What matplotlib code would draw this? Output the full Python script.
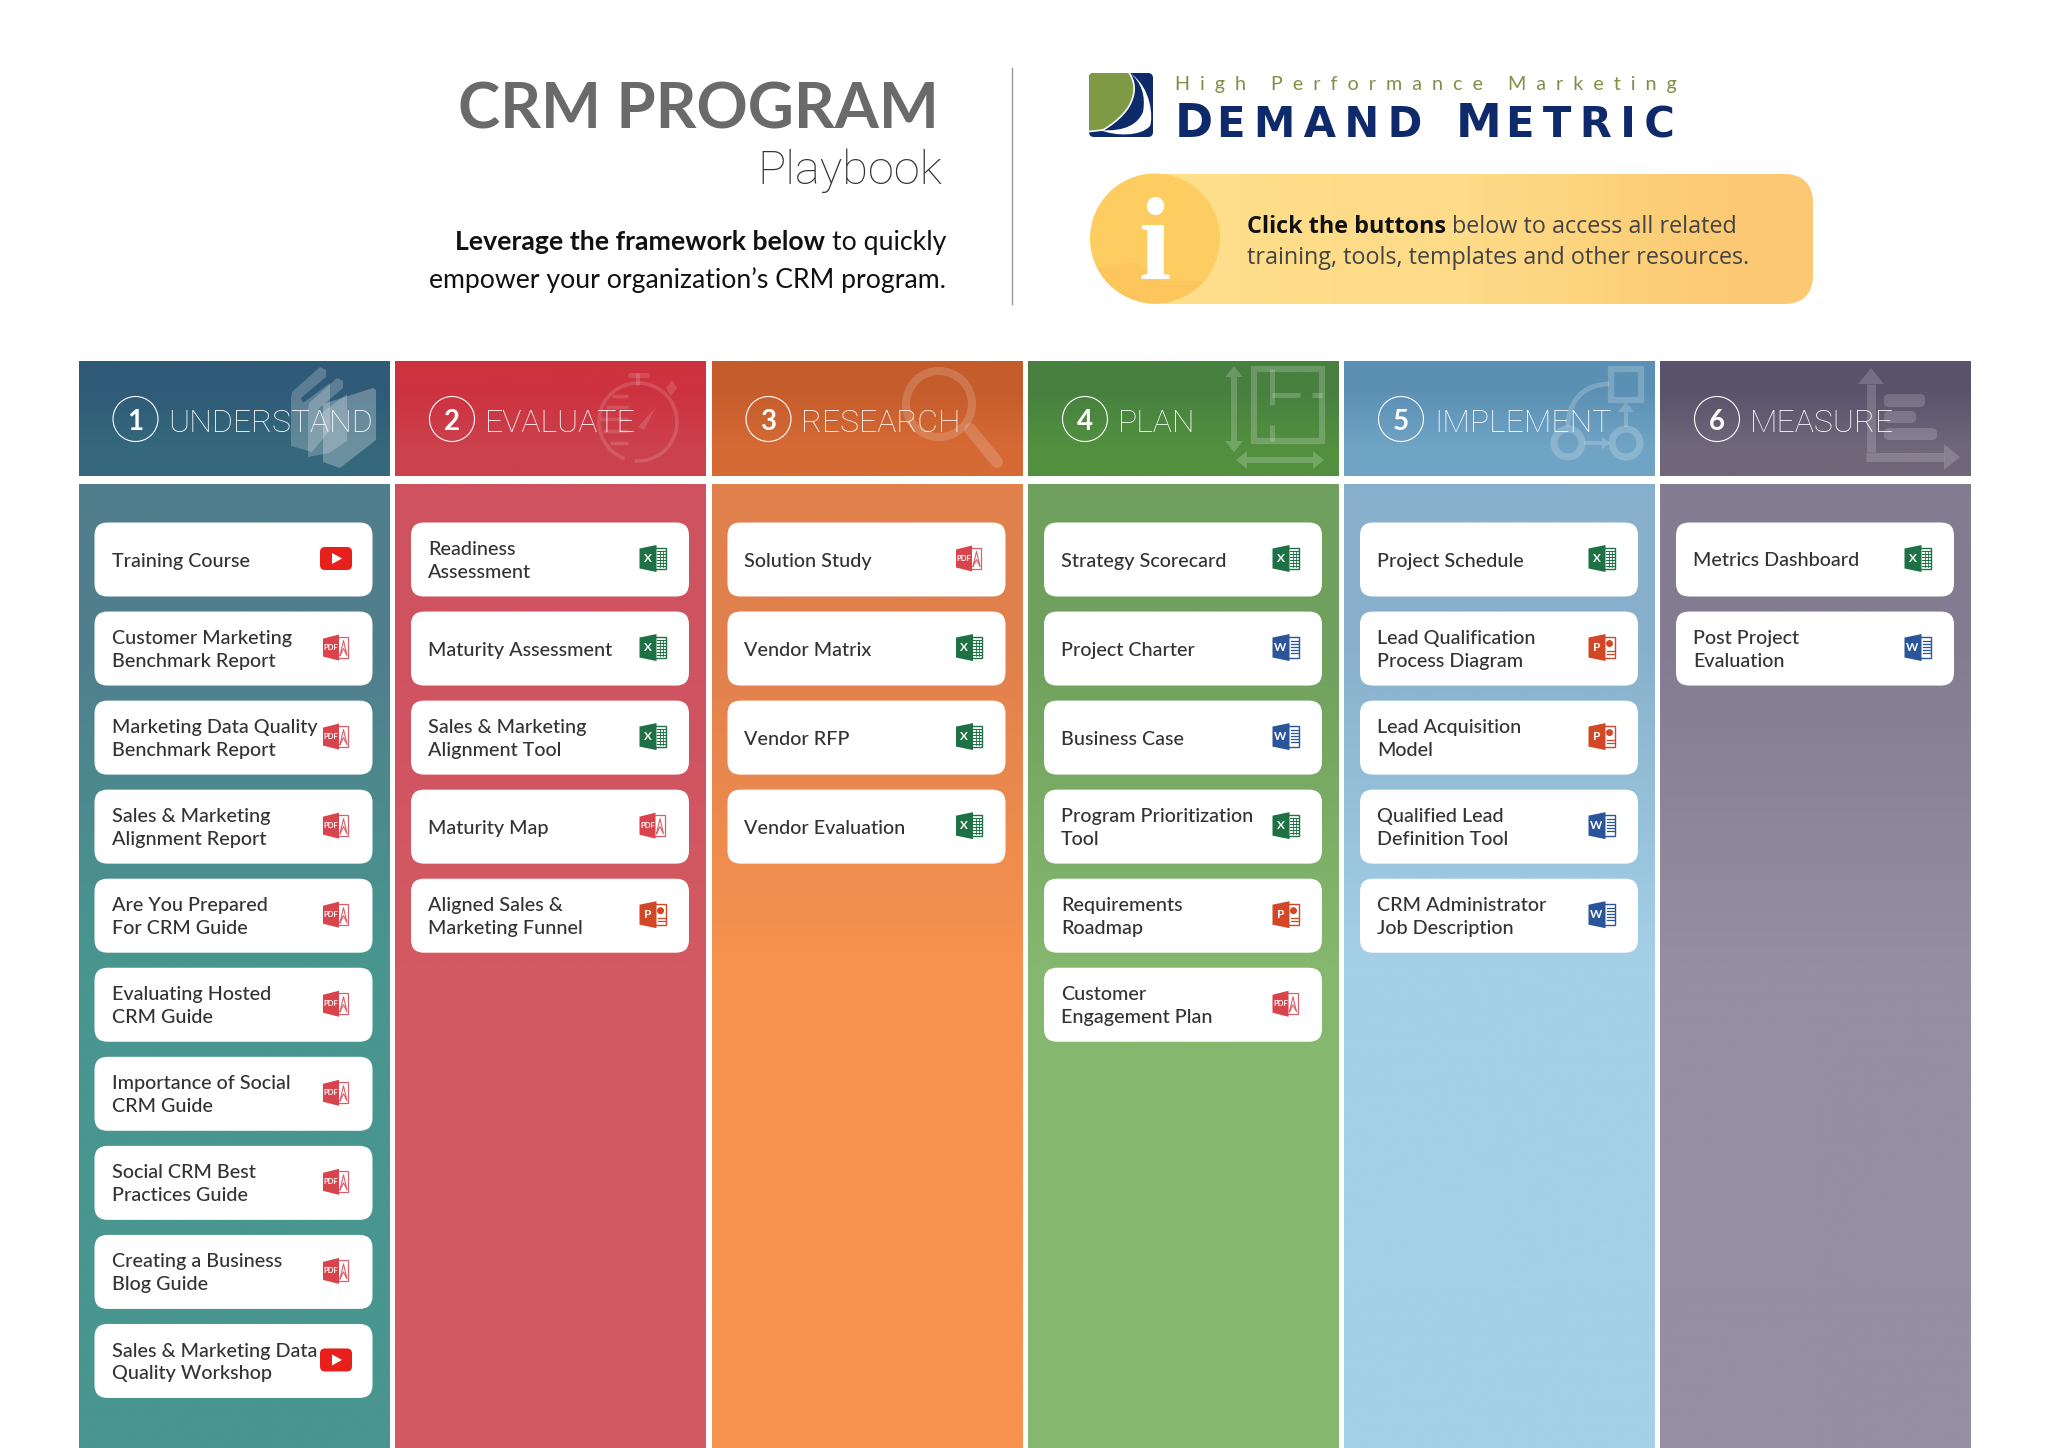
import numpy as np
import matplotlib
matplotlib.use("Agg")
import matplotlib.pyplot as plt
from matplotlib.patches import FancyBboxPatch, Circle, Polygon, Rectangle, PathPatch, Arc
from matplotlib.path import Path
from matplotlib.colors import to_rgb

TITLES = ["UNDERSTAND", "EVALUATE", "RESEARCH", "PLAN", "IMPLEMENT", "MEASURE"]
HEADER_TOP = ["#2f5a78", "#cd323e", "#c55c2b", "#47803f", "#5b90b4", "#5a526b"]
HEADER_BOT = ["#35687c", "#cb414c", "#d56a35", "#52903f", "#70a4c5", "#6f6779"]
BODY_TOP = ["#507e8d", "#cf5260", "#e0804c", "#6fa05d", "#88b0cc", "#837c91"]
BODY_BOT = ["#48968f", "#d35a62", "#f7924f", "#85b86e", "#a4d0e8", "#958fa1"]

ITEMS_1 = ["Training Course", "Customer Marketing\nBenchmark Report", "Marketing Data Quality\nBenchmark Report",
           "Sales & Marketing\nAlignment Report", "Are You Prepared\nFor CRM Guide", "Evaluating Hosted\nCRM Guide",
           "Importance of Social\nCRM Guide", "Social CRM Best\nPractices Guide", "Creating a Business\nBlog Guide",
           "Sales & Marketing Data\nQuality Workshop"]
ICONS_1 = ["yt", "pdf", "pdf", "pdf", "pdf", "pdf", "pdf", "pdf", "pdf", "yt"]
ITEMS_2 = ["Readiness\nAssessment", "Maturity Assessment", "Sales & Marketing\nAlignment Tool", "Maturity Map",
           "Aligned Sales &\nMarketing Funnel"]
ICONS_2 = ["xls", "xls", "xls", "pdf", "ppt"]
ITEMS_3 = ["Solution Study", "Vendor Matrix", "Vendor RFP", "Vendor Evaluation"]
ICONS_3 = ["pdf", "xls", "xls", "xls"]
ITEMS_4 = ["Strategy Scorecard", "Project Charter", "Business Case", "Program Prioritization\nTool",
           "Requirements\nRoadmap", "Customer\nEngagement Plan"]
ICONS_4 = ["xls", "doc", "doc", "xls", "ppt", "pdf"]
ITEMS_5 = ["Project Schedule", "Lead Qualification\nProcess Diagram", "Lead Acquisition\nModel",
           "Qualified Lead\nDefinition Tool", "CRM Administrator\nJob Description"]
ICONS_5 = ["xls", "ppt", "ppt", "doc", "doc"]
ITEMS_6 = ["Metrics Dashboard", "Post Project\nEvaluation"]
ICONS_6 = ["xls", "doc"]
ITEMS = [ITEMS_1, ITEMS_2, ITEMS_3, ITEMS_4, ITEMS_5, ITEMS_6]
ICONS = [ICONS_1, ICONS_2, ICONS_3, ICONS_4, ICONS_5, ICONS_6]

W, H = 2048, 1448
COL_X = [78.5, 395, 711.5, 1028, 1344, 1660]
COL_W = 311
THIN = "\u2009"
SANS = ["Lato", "DejaVu Sans"]
OPEN = ["Open Sans", "DejaVu Sans"]
LIGHT = ["Roboto", "DejaVu Sans"]

fig = plt.figure(figsize=(W / 100, H / 100), dpi=100)
ax = fig.add_axes([0, 0, 1, 1])
ax.axis("off")


def grad(x0, y0, x1, y1, c0, c1, horizontal=False, z=1, clip=None, stops=None):
    cols = [to_rgb(c) for c in (stops or [c0, c1])]
    arr = np.array(cols)[None, :, :] if horizontal else np.array(cols)[:, None, :]
    im = ax.imshow(arr, extent=(x0, x1, y1, y0), aspect="auto", interpolation="bilinear", zorder=z)
    if clip is not None:
        im.set_clip_path(clip)
    return im


def box(x, y, w, h, r, **kw):
    return FancyBboxPatch((x, y), w, h, boxstyle=f"round,pad=0,rounding_size={r}", **kw)


def icon_base(cx, cy, color, letter, fs=8.5):
    ax.add_patch(Rectangle((cx - 3, cy - 10.5), 16, 21, fc="white", ec=color, lw=1.0, zorder=6))
    ax.add_patch(Polygon([(cx - 13, cy - 10), (cx + 4, cy - 13.5), (cx + 4, cy + 13.5), (cx - 13, cy + 10)],
                         fc=color, ec="none", zorder=7))
    ax.text(cx - 5, cy, letter, color="white", fontsize=fs, fontweight="bold", ha="center", va="center",
            family=SANS, zorder=8)


def draw_icon(kind, cx, cy):
    if kind == "yt":
        ax.add_patch(box(cx - 16, cy - 11.5, 32, 23, 5, fc="#e8201c", ec="none", zorder=6))
        ax.add_patch(Polygon([(cx - 4, cy - 5.5), (cx + 6, cy), (cx - 4, cy + 5.5)], fc="white", ec="none", zorder=7))
    elif kind == "xls":
        icon_base(cx, cy, "#1e7145", "X")
        for yy in np.arange(cy - 7.5, cy + 8, 3):
            ax.plot([cx + 4, cx + 12], [yy, yy], color="#1e7145", lw=0.8, zorder=7)
        for xx in (cx + 7, cx + 10):
            ax.plot([xx, xx], [cy - 8, cy + 8], color="#1e7145", lw=0.6, zorder=7)
    elif kind == "doc":
        icon_base(cx, cy, "#2a5699", "W")
        for yy in np.arange(cy - 7, cy + 8, 3):
            ax.plot([cx + 5, cx + 12], [yy, yy], color="#2a5699", lw=0.9, zorder=7)
    elif kind == "ppt":
        icon_base(cx, cy, "#d24726", "P")
        ax.add_patch(Circle((cx + 8, cy - 4), 3.5, fc="#d24726", ec="none", zorder=7))
        for yy in (cy + 3, cy + 6):
            ax.plot([cx + 5, cx + 12], [yy, yy], color="#d24726", lw=0.9, zorder=7)
    else:
        ax.add_patch(Rectangle((cx - 3, cy - 10.5), 15, 21, fc="white", ec="#d9606a", lw=0.9, zorder=6))
        ax.add_patch(Polygon([(cx - 13, cy - 9), (cx + 3, cy - 13), (cx + 3, cy + 13), (cx - 13, cy + 9)],
                             fc="#d9434c", ec="none", zorder=7))
        ax.text(cx - 5, cy, "PDF", color="white", fontsize=5.5, fontweight="bold", ha="center", va="center",
                family=SANS, zorder=8)
        ax.plot([cx + 4, cx + 7.5, cx + 11, cx + 7.5, cx + 4], [cy + 8, cy - 7, cy + 8, cy + 1, cy + 8],
                color="#d9606a", lw=0.8, zorder=8)


def wm_line(xs, ys, lw_px=8, alpha=0.2, cap="round"):
    ax.plot(xs, ys, color="white", alpha=alpha, lw=lw_px / 1.389, solid_capstyle=cap, solid_joinstyle="miter", zorder=3)


def wm_poly(pts, alpha=0.2):
    ax.add_patch(Polygon(pts, fc="white", ec="none", alpha=alpha, zorder=3))


def wm_ring(cx, cy, r, lw_px=8, alpha=0.2):
    ax.add_patch(Circle((cx, cy), r, fc="none", ec="white", alpha=alpha, lw=lw_px / 1.389, zorder=3))


def wm_arrow_v(x, y0, y1, lw=7, head=13, alpha=0.2, both=True):
    wm_line([x, x], [y0 + head, y1 - (head if both else 0)], lw, alpha, "butt")
    wm_poly([(x, y0), (x - head * .8, y0 + head), (x + head * .8, y0 + head)], alpha)
    if both:
        wm_poly([(x, y1), (x - head * .8, y1 - head), (x + head * .8, y1 - head)], alpha)


def wm_arrow_h(x0, x1, y, lw=7, head=13, alpha=0.2, both=True):
    wm_line([x0 + (head if both else 0), x1 - head], [y, y], lw, alpha, "butt")
    wm_poly([(x1, y), (x1 - head, y - head * .8), (x1 - head, y + head * .8)], alpha)
    if both:
        wm_poly([(x0, y), (x0 + head, y - head * .8), (x0 + head, y + head * .8)], alpha)


def watermark_books():
    a = 0.22
    for dx, dy in ((0, 0), (17, 11)):
        wm_poly([(291 + dx, 398 + dy), (292 + dx, 392 + dy), (320 + dx, 367 + dy), (326 + dx, 370 + dy),
                 (326 + dx, 377 + dy), (301 + dx, 398 + dy), (303 + dx, 403 + dy), (330 + dx, 383 + dy),
                 (330 + dx, 430 + dy), (312 + dx, 452 + dy - dy * .9), (291 + dx, 446 + dy)], a)
    wm_poly([(323, 404), (373, 388), (376, 390), (376, 440), (340, 468), (323, 462)], a + .05)


def watermark_watch():
    a = 0.14
    ax.add_patch(Arc((638, 422), 78, 78, theta1=-250, theta2=95, ec="white", alpha=a, lw=2.6, zorder=3))
    wm_line([638, 638], [375, 384], 4, a)
    wm_line([630, 647], [375, 375], 5, a)
    wm_poly([(672, 380), (677, 388), (671, 396), (666, 388)], a)
    wm_poly([(638, 427), (656, 407), (644, 430)], a)
    for yy, x0 in ((396, 612), (407, 606), (419, 600), (431, 603), (443, 610)):
        wm_line([x0, 628], [yy, yy], 3.5, a, "butt")


def watermark_glass():
    a = 0.17
    wm_ring(939, 404, 33, 8, a)
    wm_line([970, 997], [429, 462], 12, a)


def watermark_plan():
    a = 0.2
    ax.add_patch(Rectangle((1254, 369), 68, 72, fc="none", ec="white", alpha=a, lw=4.5, zorder=3))
    wm_line([1272, 1272], [369, 405], 5, a, "butt")
    wm_line([1272, 1272], [425, 441], 5, a, "butt")
    wm_line([1272, 1300], [395, 395], 5, a, "butt")
    wm_line([1312, 1322], [395, 395], 5, a, "butt")
    wm_arrow_v(1234, 366, 452, 6, 11, a)
    wm_arrow_h(1236, 1324, 460, 6, 11, a)


def watermark_flow():
    a = 0.2
    ax.add_patch(Rectangle((1611, 369), 30, 31, fc="none", ec="white", alpha=a, lw=4.5, zorder=3))
    wm_ring(1568, 443, 14, 7, a)
    wm_ring(1626, 443, 14, 7, a)
    wm_arrow_h(1584, 1610, 443, 4, 8, a, both=False)
    wm_arrow_v(1626, 402, 427, 4, 10, a, both=False)
    ax.add_patch(PathPatch(Path([(1568, 427), (1568, 400), (1585, 384), (1609, 384)],
                                [Path.MOVETO, Path.CURVE4, Path.CURVE4, Path.CURVE4]),
                           fc="none", ec="white", alpha=a, lw=3.5, zorder=3))


def watermark_chart():
    a = 0.17
    wm_arrow_v(1871, 368, 452, 9, 16, a, both=False)
    wm_arrow_h(1866, 1960, 457, 9, 16, a, both=False)
    for x1, y0, y1 in ((1925, 394, 407), (1916, 411, 423), (1937, 428, 440)):
        ax.add_patch(box(1884, y0, x1 - 1884, y1 - y0, 5, fc="white", ec="none", alpha=a, zorder=3))


WATERMARKS = [watermark_books, watermark_watch, watermark_glass, watermark_plan, watermark_flow, watermark_chart]

for i, x in enumerate(COL_X):
    grad(x, 362, x + COL_W, 476.5, HEADER_TOP[i], HEADER_BOT[i])
    grad(x, 484.5, x + COL_W, H, None, None, stops=[BODY_TOP[i], BODY_BOT[i], BODY_BOT[i]])
    WATERMARKS[i]()
    ax.add_patch(Circle((x + 57, 419), 22.5, fc="none", ec="white", lw=0.8, zorder=5))
    ax.text(x + 57, 419, str(i + 1), color="white", fontsize=20, fontweight="bold", ha="center", va="center_baseline",
            family=SANS, zorder=6)
    ax.text(x + 90, 421, TITLES[i], color="white", fontsize=23, fontweight="light", ha="left", va="center_baseline",
            family=LIGHT, zorder=6)
    for j, (label, kind) in enumerate(zip(ITEMS[i], ICONS[i])):
        top = 522.5 + j * 89.05
        ax.add_patch(box(x + 16, top, 278, 74, 13, fc="white", ec="none", zorder=4))
        ax.text(x + 33, top + 38.5, label, color="#333333", fontsize=14.2, fontweight="medium", ha="left", va="center",
                linespacing=1.42, family=SANS, zorder=6)
        draw_icon(kind, x + 257.5, top + 36)


def runs(x_right, y, parts, fs, family, gap, color="#111111"):
    r = fig.canvas.get_renderer()
    xs = x_right
    for text, weight in reversed(parts):
        t = ax.text(xs, y, text, fontsize=fs, fontweight=weight, ha="right", va="center_baseline", family=family,
                    color=color, zorder=6)
        xs -= t.get_window_extent(r).width + gap


def runs_left(x, y, parts, fs, family, gap, color="#111111"):
    r = fig.canvas.get_renderer()
    for text, weight, c in parts:
        t = ax.text(x, y, text, fontsize=fs, fontweight=weight, ha="left", va="center_baseline", family=family,
                    color=c or color, zorder=6)
        x += t.get_window_extent(r).width + gap


ax.text(939, 105, "CRM PROGRAM", color="#6a6a6a", fontsize=45.7, fontweight="bold", ha="right", va="center_baseline",
        family=SANS)
ax.text(942, 166, "Playbook", color="#333333", fontsize=33.8, fontweight="light", ha="right", va="center_baseline",
        family=LIGHT)
runs(946, 240, [("Leverage the framework below", "bold"), ("to quickly", "normal")], 19.2, SANS, 7)
ax.text(946, 278, "empower your organization\u2019s CRM program.", color="#111111", fontsize=19.2, ha="right",
        va="center_baseline", family=SANS)
ax.plot([1012, 1012], [68, 304], color="#9a9a9a", lw=1.0)

logo_clip = box(1089, 73, 64, 64, 5, fc="#0d2a6a", ec="none", zorder=2)
ax.add_patch(logo_clip)
crescent = PathPatch(Path([(1130, 73), (1152, 88), (1153, 118), (1150, 126), (1140, 137), (1115, 136), (1100, 130),
                           (1125, 132), (1138, 124), (1143, 112), (1146, 95), (1141, 82), (1130, 73)],
                          [Path.MOVETO, Path.CURVE4, Path.CURVE4, Path.CURVE4, Path.CURVE4, Path.CURVE4, Path.CURVE4,
                           Path.CURVE4, Path.CURVE4, Path.CURVE4, Path.CURVE4, Path.CURVE4, Path.CURVE4]),
                     fc="white", ec="none", zorder=3)
ax.add_patch(crescent)
crescent.set_clip_path(logo_clip)
green = PathPatch(Path([(1085, 70), (1127, 70), (1140, 85), (1137, 110), (1103, 130), (1085, 132), (1085, 70)],
                       [Path.MOVETO, Path.LINETO, Path.CURVE4, Path.CURVE4, Path.CURVE4, Path.LINETO, Path.CLOSEPOLY]),
                  fc="#7e9a45", ec="white", lw=1.2, zorder=4)
ax.add_patch(green)
green.set_clip_path(logo_clip)

TAGLINE = "High Performance Marketing"
ax.text(1175, 83, (THIN * 4).join(TAGLINE), color="#7f8f45", fontsize=14.25, ha="left", va="center_baseline", family=SANS)
DEMAND = "DEMAND"
METRIC = "METRIC"
for word, x, off in ((DEMAND, 1175, 42), (METRIC, 1456, 50)):
    ax.text(x, 137, word[0], color="#0e2a6b", fontsize=33, fontweight="bold", ha="left", va="baseline",
            family=["DejaVu Sans"], zorder=6)
    ax.text(x + off, 137, THIN.join(word[1:]), color="#0e2a6b", fontsize=30, fontweight="bold", ha="left",
            va="baseline", family=["DejaVu Sans"], zorder=6)

pill = box(1125, 174, 688, 130, 30, fc="#fedc88", ec="none", zorder=1)
ax.add_patch(pill)
grad(1125, 174, 1813, 304, None, None, horizontal=True, z=2, clip=pill,
     stops=["#ffdf8c", "#fedc88", "#fedb88", "#fdd27c", "#fcc873"])
disc = Circle((1155, 238.5), 65, fc="#fdcd62", ec="none", zorder=3)
ax.add_patch(disc)
shade = Polygon([(1135, 262), (1160, 281), (1207, 281), (1190, 310), (1100, 310), (1085, 270)], fc="#fbbd54", ec="none",
                zorder=4, alpha=0.4)
ax.add_patch(shade)
shade.set_clip_path(disc)
ax.text(1155, 250, "i", color="white", fontsize=84, fontweight="bold", ha="center", va="center", family="Liberation Serif",
        zorder=5)
runs_left(1247, 224, [("Click the buttons", "bold", "#111111"), ("below to access all related", "normal", "#444444")],
          16.8, OPEN, 6)
ax.text(1247, 255, "training, tools, templates and other resources.", color="#444444", fontsize=16.8, ha="left",
        va="center_baseline", family=OPEN, zorder=6)

ax.set_xlim(0, W)
ax.set_ylim(H, 0)
fig.savefig("out.png", dpi=100, facecolor="white")
